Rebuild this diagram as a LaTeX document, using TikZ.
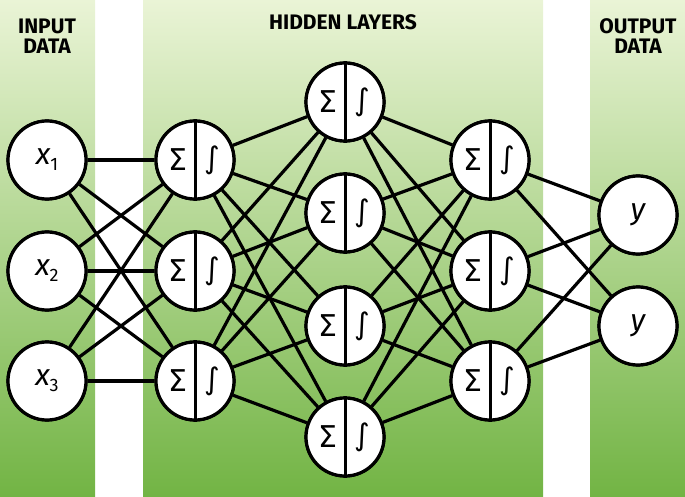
\documentclass[tikz,border=0pt]{standalone}
\usepackage{fontspec}
\setmainfont{Fira Sans}
\newfontfamily\symf{DejaVu Sans}
\begin{document}
\begin{tikzpicture}[x=1pt,y=-1pt,
 neu/.style={circle,draw=black,line width=3.2pt,fill=white,minimum size=78pt,inner sep=0pt},
 conn/.style={line width=3.2pt},
 lab/.style={font=\fontsize{30}{30}\selectfont\itshape},
 sym/.style={font=\symf\fontsize{30}{30}\selectfont},
 ttl/.style={font=\fontsize{21}{21}\selectfont\bfseries,align=center,text depth=0pt}]
\useasboundingbox (0,0) rectangle (685,497);
\definecolor{gtop}{HTML}{EAF4D6}\definecolor{gbot}{HTML}{72B444}
\fill[top color=gtop,bottom color=gbot] (0,0) rectangle (95,497);
\fill[top color=gtop,bottom color=gbot] (143,0) rectangle (543,497);
\fill[top color=gtop,bottom color=gbot] (590,0) rectangle (685,497);
\node[ttl] (t1) at (47,36) {INPUT\\[-1pt]DATA};
\node[ttl] (t2) at (343,22) {HIDDEN LAYERS};
\node[ttl] (t3) at (638,36) {OUTPUT\\[-1pt]DATA};
\foreach \y/\n in {160/1,271/2,381/3}{
 \node[neu] (i\n) at (47,\y) {};
 \node[neu] (a\n) at (195,\y) {};
 \node[neu] (c\n) at (490,\y) {};}
\foreach \y/\n in {102/1,213/2,326/3,437/4}{\node[neu] (b\n) at (345,\y) {};}
\foreach \y/\n in {215/1,326/2}{\node[neu] (o\n) at (638,\y) {};}
\foreach \i in {1,2,3}{\foreach \j in {1,2,3}{\draw[conn] (i\i) -- (a\j);}}
\foreach \i in {1,2,3}{\foreach \j in {1,2,3,4}{\draw[conn] (a\i) -- (b\j); \draw[conn] (b\j) -- (c\i);}}
\foreach \i in {1,2,3}{\foreach \j in {1,2}{\draw[conn] (c\i) -- (o\j);}}
\foreach \n in {i1,i2,i3,o1,o2}{\node[neu] at (\n) {};}
\node[lab] at (i1) {x\raisebox{-6pt}{\fontsize{18}{18}\selectfont\upshape 1}};
\node[lab] at (i2) {x\raisebox{-6pt}{\fontsize{18}{18}\selectfont\upshape 2}};
\node[lab] at (i3) {x\raisebox{-6pt}{\fontsize{18}{18}\selectfont\upshape 3}};
\node[lab] at (o1) {y};\node[lab] at (o2) {y};
\foreach \n in {a1,a2,a3,b1,b2,b3,b4,c1,c2,c3}{
 \node[neu] (\n s) at (\n) {};
 \draw[line width=3pt] (\n s.north) -- (\n s.south);
 \node[sym] at ([xshift=-17pt]\n) {Σ};
 \node[sym] at ([xshift=17pt]\n) {∫};}
\end{tikzpicture}
\end{document}
